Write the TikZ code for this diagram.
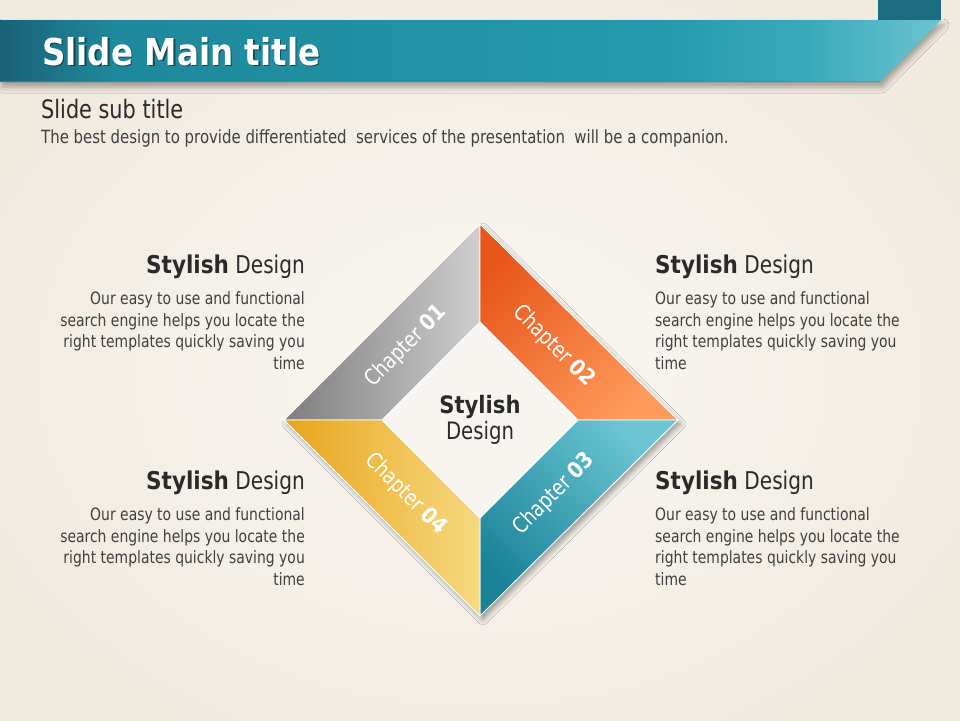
\documentclass[tikz,border=0pt]{standalone}
\usepackage{fontspec}
\setmainfont{DejaVu Sans}[FakeStretch=0.82, BoldFeatures={FakeStretch=0.88}]
\usetikzlibrary{shadows.blur}
\newcommand\fsz[2]{\fontsize{#1}{#2}\selectfont}
\definecolor{bgouter}{HTML}{F1EADF}
\definecolor{bginner}{HTML}{FAF8F4}
\definecolor{bar1}{HTML}{1A6276}
\definecolor{bar2a}{HTML}{1F889C}
\definecolor{bar2b}{HTML}{2499AD}
\definecolor{bar2c}{HTML}{3AAABB}
\definecolor{bar3}{HTML}{6CC4CF}
\definecolor{dsq}{HTML}{1D6B7F}
\definecolor{txt}{HTML}{404040}
\definecolor{headc}{HTML}{2A2A2A}
\definecolor{gray1}{HTML}{7E7E7E}
\definecolor{gray2}{HTML}{CECECE}
\definecolor{org1}{HTML}{E8561A}
\definecolor{org2}{HTML}{FE9A5C}
\definecolor{teal1}{HTML}{6CC6D2}
\definecolor{teal2}{HTML}{1B8398}
\definecolor{yel1}{HTML}{E8A31C}
\definecolor{yel2}{HTML}{F7DA80}
\definecolor{inner}{HTML}{F8F5F0}
\pgfdeclarehorizontalshading{barshade}{100bp}{color(0bp)=(bar1); color(25bp)=(bar1); color(31bp)=(bar2a); color(60bp)=(bar2b); color(68bp)=(bar2c); color(75bp)=(bar3); color(100bp)=(bar3)}
\begin{document}
\begin{tikzpicture}[x=1pt,y=-1pt,
  body/.style={font=\fsz{17}{21.4}, text=txt, inner sep=0pt},
  head/.style={font=\fsz{24.5}{28}, text=headc, inner sep=0pt},
  chap/.style={font=\fsz{22}{24}, text=white, inner sep=0pt},
  seg/.style={draw=white, line width=0.9pt, line join=miter}]
\useasboundingbox (0,0) rectangle (960,720);
\fill[bgouter] (0,0) rectangle (960,720);
\shade[inner color=bginner, outer color=bgouter] (-60,-40) rectangle (1020,780);
% title bar
\fill[dsq] (878,0) rectangle (941,20);
\shade[shading=barshade, blur shadow={shadow xshift=2pt, shadow yshift=-5pt, shadow blur radius=6pt, shadow opacity=35}] (0,20) -- (941,20) -- (880,82) -- (0,82) -- cycle;
\draw[green!50!teal, line width=0.8pt, opacity=0.6] (0,81.6) -- (880.4,81.6);
\node (titleshadow) [anchor=base west, inner sep=0pt, font=\fsz{37}{40}\bfseries, text=black, opacity=0.45] at (43.5,66.5) {Slide Main title};
\node (title) [anchor=base west, inner sep=0pt, font=\fsz{37}{40}\bfseries, text=white] at (42,65) {Slide Main title};
% subtitles
\node (sub) [anchor=base west, inner sep=0pt, font=\fsz{25.4}{28}, text=headc] at (41,118) {Slide sub title};
\node (desc) [anchor=base west, inner sep=0pt, font=\fsz{18.2}{20}, text=txt] at (41,143) {The best design to provide differentiated\ \ services of the presentation\ \ will be a companion.};
% diamond coordinates
\coordinate (T) at (480,224);
\coordinate (R) at (678,420);
\coordinate (B) at (480,616);
\coordinate (L) at (284,420);
\coordinate (t) at (480,322);
\coordinate (r) at (578,420);
\coordinate (b) at (480,518);
\coordinate (l) at (382,420);
\path[fill=inner, blur shadow={shadow xshift=3pt, shadow yshift=-4pt, shadow blur radius=5pt, shadow opacity=35}] (L)--(T)--(R)--(B)--cycle;
\fill[inner] (l)--(t)--(r)--(b)--cycle;
\shade[seg, left color=gray1, right color=gray2] (L)--(T)--(t)--(l)--cycle;
\shade[seg, top color=org1, bottom color=org2, shading angle=45] (T)--(R)--(r)--(t)--cycle;
\shade[seg, top color=teal1, bottom color=teal2, shading angle=-45] (R)--(B)--(b)--(r)--cycle;
\shade[seg, left color=yel1, right color=yel2] (B)--(L)--(l)--(b)--cycle;
% chapter labels
\node (c1) [chap, rotate=45] at (406,346) {Chapter \textbf{01}};
\node (c2) [chap, rotate=-45] at (554,346) {Chapter \textbf{02}};
\node (c3) [chap, rotate=45] at (554,494) {Chapter \textbf{03}};
\node (c4) [chap, rotate=-45] at (406,494) {Chapter \textbf{04}};
% center
\node (center) [font=\fsz{24}{26}, text=headc, align=center, inner sep=0pt] at (480,420) {\textbf{Stylish}\\Design};
% text blocks (base anchor = last line)
\node (h1) [head, anchor=base east] at (305,273) {\textbf{Stylish} Design};
\node (b1) [body, anchor=base east, align=right] at (305,369) {Our easy to use and functional\\search engine helps you locate the\\right templates quickly saving you\\time};
\node (h2) [head, anchor=base west] at (655,273) {\textbf{Stylish} Design};
\node (b2) [body, anchor=base west, align=left] at (655,369) {Our easy to use and functional\\search engine helps you locate the\\right templates quickly saving you\\time};
\node (h3) [head, anchor=base east] at (305,489) {\textbf{Stylish} Design};
\node (b3) [body, anchor=base east, align=right] at (305,585) {Our easy to use and functional\\search engine helps you locate the\\right templates quickly saving you\\time};
\node (h4) [head, anchor=base west] at (655,489) {\textbf{Stylish} Design};
\node (b4) [body, anchor=base west, align=left] at (655,585) {Our easy to use and functional\\search engine helps you locate the\\right templates quickly saving you\\time};
\end{tikzpicture}
\end{document}
